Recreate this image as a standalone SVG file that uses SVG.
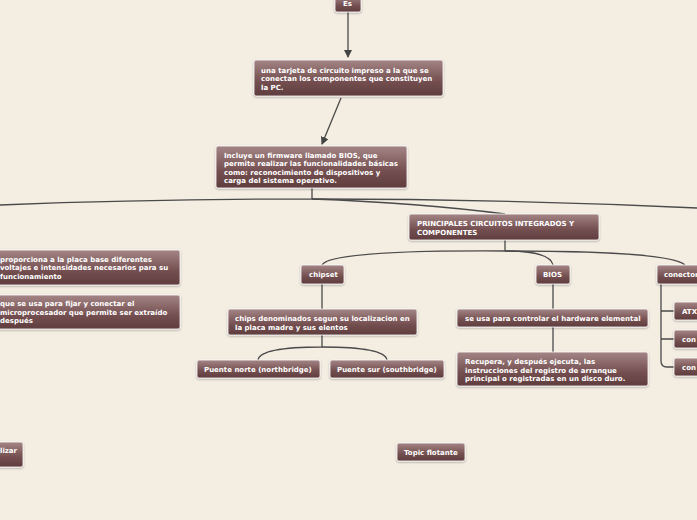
<svg xmlns="http://www.w3.org/2000/svg" width="697" height="520" viewBox="0 0 697 520">
<defs>
<linearGradient id="g" x1="0" y1="0" x2="0" y2="1"><stop offset="0" stop-color="#a48585"/><stop offset="0.6" stop-color="#744f50"/><stop offset="1" stop-color="#5f3d3e"/></linearGradient>
<marker id="ar" markerWidth="8" markerHeight="8" refX="7" refY="4" orient="auto" markerUnits="userSpaceOnUse"><path d="M0,0 L8,4 L0,8 z" fill="#444"/></marker>
<filter id="sh" x="-10%" y="-20%" width="120%" height="150%"><feDropShadow dx="0" dy="1" stdDeviation="0.8" flood-color="#000" flood-opacity="0.3"/></filter>
</defs>
<style>
.n{fill:url(#g);stroke:#fff;stroke-width:0.8;filter:url(#sh)}
text{font-family:"DejaVu Sans",Verdana,sans-serif;font-weight:bold;font-size:7px;fill:#fff}
.c{fill:none;stroke:#4a4a4a;stroke-width:1.3}
</style>
<rect width="697" height="520" fill="#f3ede2"/>
<g id="connectors">
<path class="c" d="M348,12 V57" marker-end="url(#ar)"/>
<path class="c" d="M341,98 L322,144" marker-end="url(#ar)"/>
<path class="c" d="M312,188 V199 Q150,199 0,205"/>
<path class="c" d="M312,199 Q500,199 697,208"/>
<path class="c" d="M312,199 Q420,203 505,214"/>
<path class="c" d="M505,240 V251"/>
<path class="c" d="M505,251 Q330,250 322,265"/>
<path class="c" d="M505,251 Q550,251 553,265"/>
<path class="c" d="M505,251 Q670,251 685,265"/>
<path class="c" d="M322,284 V309"/>
<path class="c" d="M322,335 V347 Q260,347 258,360"/>
<path class="c" d="M322,347 Q385,347 387,360"/>
<path class="c" d="M553,284 V309"/>
<path class="c" d="M553,327 V352"/>
<path class="c" d="M661,284 V361 Q661,367 667,367 H674"/>
<path class="c" d="M661,311 H674 M661,339 H674"/>
</g>
<g id="n-es"><rect class="n" x="335" y="-4" width="26" height="16" rx="2"/><text x="343" y="6">Es</text></g>
<g id="n-a"><rect class="n" x="254" y="60" width="189" height="36" rx="2"/><text x="261" y="73">una tarjeta de circuito impreso a la que se</text><text x="261" y="81">conectan los componentes que constituyen</text><text x="261" y="90">la PC.</text></g>
<g id="n-b"><rect class="n" x="216" y="146" width="191" height="42" rx="2"/><text x="224" y="158">Incluye un firmware llamado BIOS, que</text><text x="224" y="166">permite realizar las funcionalidades básicas</text><text x="224" y="175">como: reconocimiento de dispositivos y</text><text x="224" y="183">carga del sistema operativo.</text></g>
<g id="n-c"><rect class="n" x="409" y="214" width="190" height="26" rx="2"/><text x="417" y="226">PRINCIPALES CIRCUITOS INTEGRADOS Y</text><text x="417" y="235">COMPONENTES</text></g>
<g id="n-l1"><rect class="n" x="-10" y="250" width="190" height="35" rx="2"/><text x="0" y="262">proporciona a la placa base diferentes</text><text x="0" y="270">voltajes e intensidades necesarios para su</text><text x="0" y="279">funcionamiento</text></g>
<g id="n-l2"><rect class="n" x="-10" y="295" width="190" height="34" rx="2"/><text x="0" y="306">que se usa para fijar y conectar el</text><text x="0" y="315">microprocesador que permite ser extraído</text><text x="0" y="323">después</text></g>
<g id="n-l3"><rect class="n" x="-10" y="442" width="33" height="25" rx="2"/><text x="0" y="453">lizar</text></g>
<g id="n-chipset"><rect class="n" x="301" y="265" width="43" height="19" rx="2"/><text x="309" y="277">chipset</text></g>
<g id="n-bios"><rect class="n" x="536" y="265" width="34" height="19" rx="2"/><text x="543" y="277">BIOS</text></g>
<g id="n-conector"><rect class="n" x="657" y="265" width="50" height="19" rx="2"/><text x="664" y="277">conector</text></g>
<g id="n-chips"><rect class="n" x="228" y="309" width="189" height="26" rx="2"/><text x="235" y="321">chips denominados segun su localizacion en</text><text x="235" y="330">la placa madre y sus elentos</text></g>
<g id="n-seusa"><rect class="n" x="457" y="309" width="191" height="18" rx="2"/><text x="465" y="321">se usa para controlar el hardware elemental</text></g>
<g id="n-recupera"><rect class="n" x="457" y="352" width="191" height="34" rx="2"/><text x="465" y="364">Recupera, y después ejecuta, las</text><text x="465" y="373">instrucciones del registro de arranque</text><text x="465" y="381">principal o registradas en un disco duro.</text></g>
<g id="n-norte"><rect class="n" x="197" y="360" width="123" height="18" rx="2"/><text x="204" y="372">Puente norte (northbridge)</text></g>
<g id="n-sur"><rect class="n" x="330" y="360" width="114" height="18" rx="2"/><text x="337" y="372">Puente sur (southbridge)</text></g>
<g id="n-atx"><rect class="n" x="674" y="302" width="30" height="18" rx="2"/><text x="682" y="314">ATX</text></g>
<g id="n-con1"><rect class="n" x="674" y="330" width="30" height="18" rx="2"/><text x="682" y="342">con</text></g>
<g id="n-con2"><rect class="n" x="674" y="358" width="30" height="18" rx="2"/><text x="682" y="370">con</text></g>
<g id="n-topic"><rect class="n" x="397" y="443" width="68" height="18" rx="2"/><text x="404" y="455">Topic flotante</text></g>
</svg>
